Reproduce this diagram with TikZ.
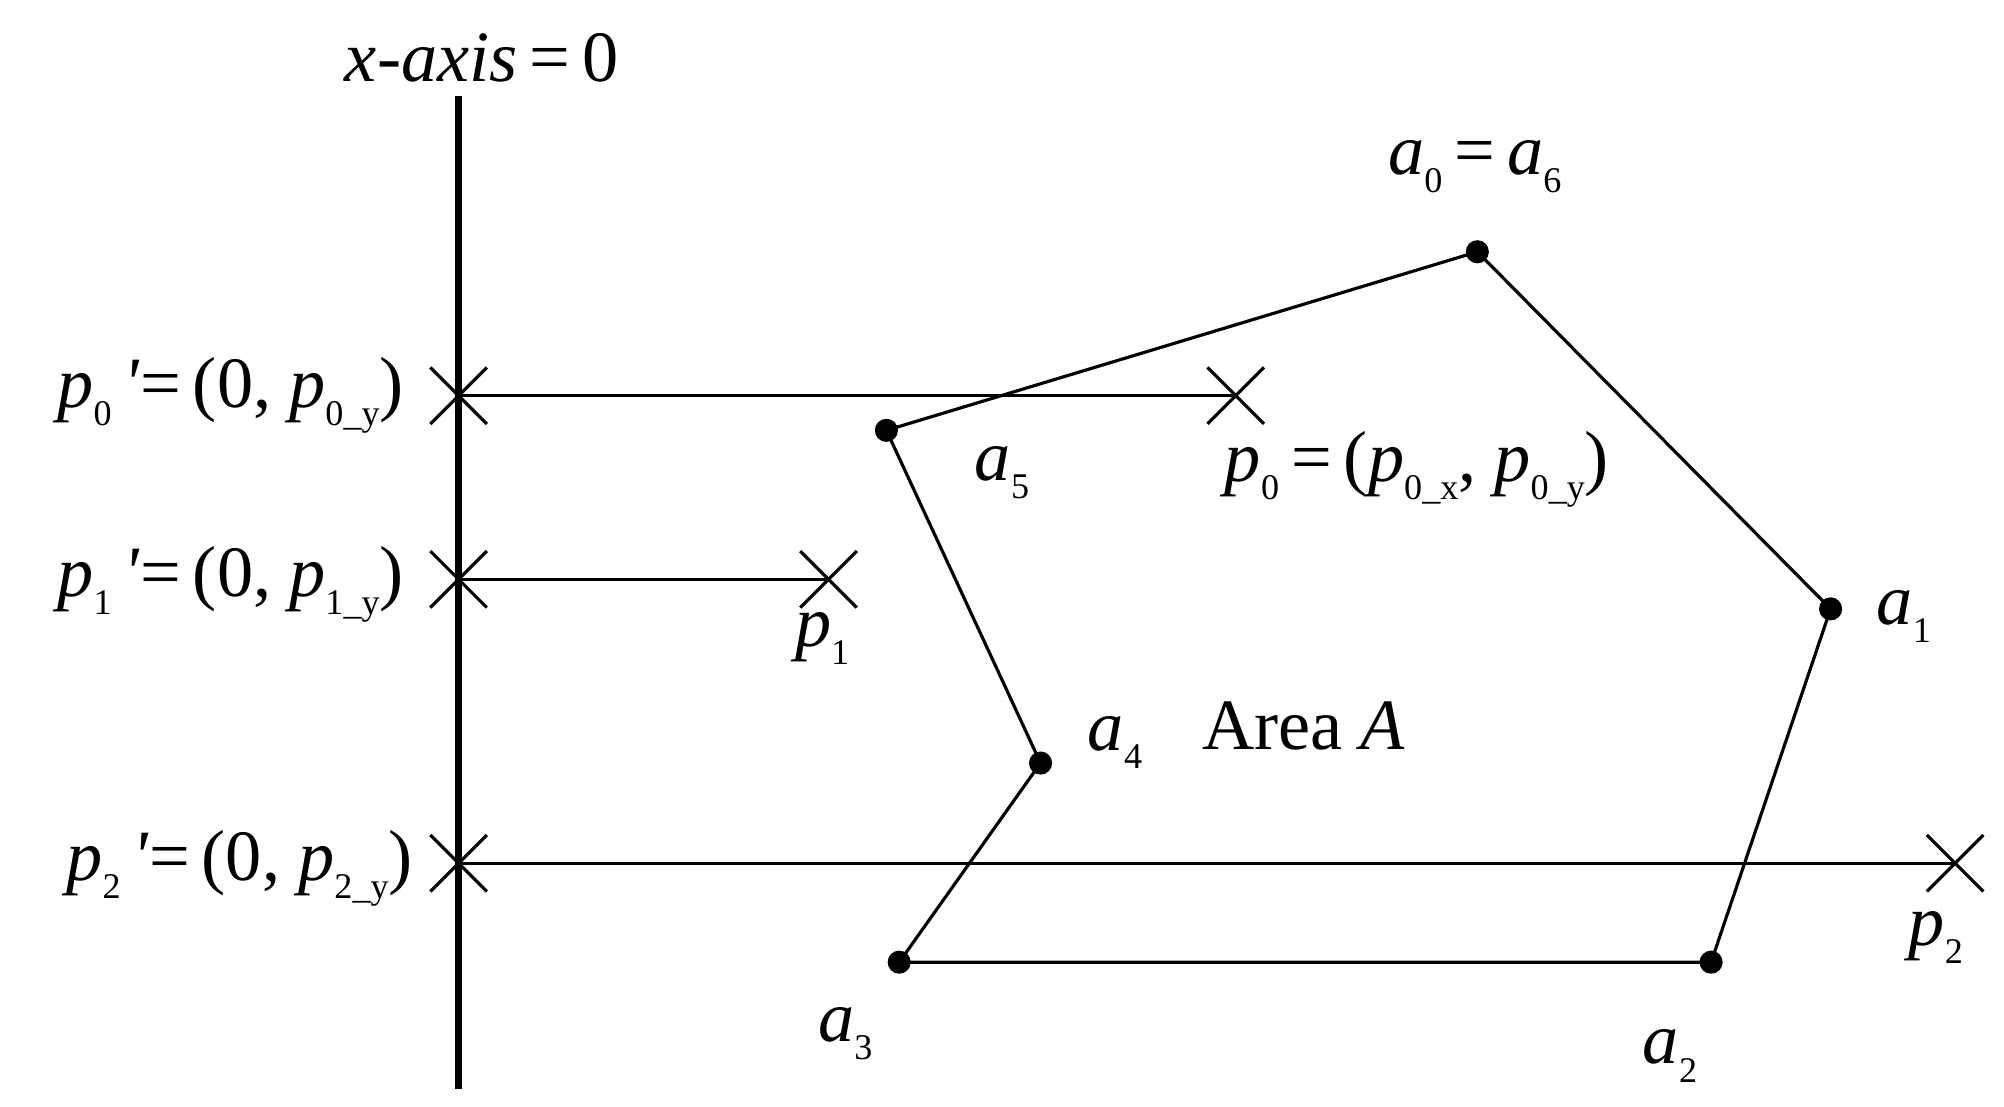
\documentclass[tikz,border=0pt]{standalone}
\usepackage{fontspec}
\setmainfont{Liberation Serif}
\newcommand{\sbs}[1]{\raisebox{-0.25em}{\footnotesize #1}}
\newcommand{\ip}{\textit{p}}
\newcommand{\ia}{\textit{a}}
\begin{document}
\begin{tikzpicture}[x=0.01cm,y=-0.01cm,
  lbl/.style={font=\fontsize{16}{19}\selectfont,inner sep=0pt},
  vtx/.style={circle,fill=black,inner sep=0pt,minimum size=0.18cm},
  crs/.style={inner sep=0pt,minimum size=0.3cm},
  edge/.style={line width=0.7pt}]
\useasboundingbox (0,0) rectangle (1560,861);
\coordinate (top) at (357,75); \coordinate (bot) at (357,848);
\draw[line width=1.6pt] (top) -- (bot);
\foreach \n/\x/\y in {q0/357/308,p0/962/308,q1/357/451,p1/645/451,q2/357/672,p2/1522/672}{
  \node[crs] (\n) at (\x,\y) {};
  \draw[edge] (\x-22,\y-22) -- (\x+22,\y+22) (\x-22,\y+22) -- (\x+22,\y-22);
}
\draw[edge] (q0.center) -- (p0.center);
\draw[edge] (q1.center) -- (p1.center);
\draw[edge] (q2.center) -- (p2.center);
\node[vtx] (a0) at (1150,196) {};
\node[vtx] (a1) at (1425,474) {};
\node[vtx] (a2) at (1332,749) {};
\node[vtx] (a3) at (700,749) {};
\node[vtx] (a4) at (810,594) {};
\node[vtx] (a5) at (690,335) {};
\draw[edge] (a0.center) -- (a1.center) -- (a2.center) -- (a3.center) -- (a4.center) -- (a5.center) -- (a0.center);
\node[lbl] (tx) at (375,45) {\textit{x-axis}\,=\,0};
\node[lbl] (la0) at (1148,130) {\ia\sbs{0}\,=\,\ia\sbs{6}};
\node[lbl,anchor=east] (lq0) at (315,308) {\ip\sbs{0}\,\textit{\textquotesingle}=\,(0, \ip\sbs{0\_y})};
\node[lbl,anchor=east] (lq1) at (315,455) {\ip\sbs{1}\,\textit{\textquotesingle}=\,(0, \ip\sbs{1\_y})};
\node[lbl,anchor=east] (lq2) at (322,676) {\ip\sbs{2}\,\textit{\textquotesingle}=\,(0, \ip\sbs{2\_y})};
\node[lbl] (la5) at (780,368) {\ia\sbs{5}};
\node[lbl] (lp0) at (1103,365) {\ip\sbs{0}\,=\,(\ip\sbs{0\_x}, \ip\sbs{0\_y})};
\node[lbl] (la1) at (1482,480) {\ia\sbs{1}};
\node[lbl] (lp1) at (640,497) {\ip\sbs{1}};
\node[lbl] (la4) at (868,578) {\ia\sbs{4}};
\node[lbl] (area) at (1015,565) {Area \textit{A}};
\node[lbl] (lp2) at (1507,730) {\ip\sbs{2}};
\node[lbl] (la3) at (658,805) {\ia\sbs{3}};
\node[lbl] (la2) at (1300,822) {\ia\sbs{2}};
\end{tikzpicture}
\end{document}
